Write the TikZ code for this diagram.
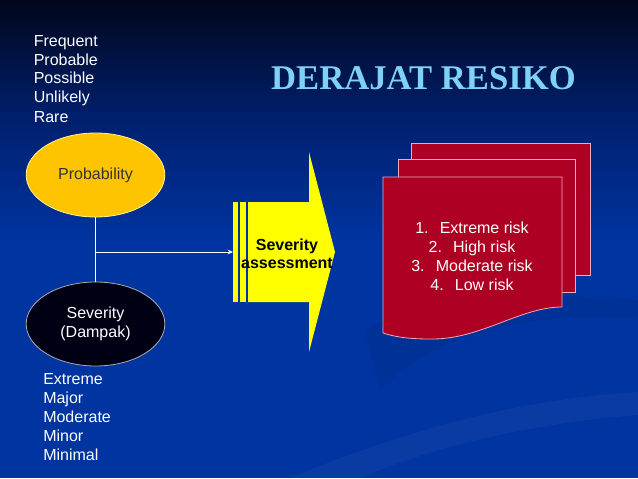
\documentclass[tikz,border=0pt]{standalone}
\usepackage{fontspec}
\setmainfont{Liberation Sans}
\newfontfamily\titlefont{Liberation Serif}
\usetikzlibrary{shapes.geometric,arrows.meta}
\definecolor{bgtop}{HTML}{01061C}
\definecolor{bgmid}{HTML}{00206E}
\definecolor{bgblue}{HTML}{0034A0}
\definecolor{probgold}{HTML}{FFC400}
\definecolor{arrowyellow}{HTML}{FFFF00}
\definecolor{docred}{HTML}{AD0023}
\definecolor{docedge}{HTML}{F2A9BE}
\definecolor{titleblue}{HTML}{7FD2F6}

\begin{document}
\begin{tikzpicture}[x=0.75pt,y=-0.75pt,
    listtext/.style={anchor=base west, text=white, font=\fontsize{12}{14}\selectfont, inner sep=0pt},
    bubble/.style={ellipse, minimum width=104pt, minimum height=63pt, inner sep=0pt,
      align=center, font=\fontsize{12}{14.25}\selectfont, line width=0.6pt},
    riskpage/.style={fill=docred, draw=docedge, line width=0.6pt}]

    \useasboundingbox (0,0) rectangle (638,478);
    % background
    \shade[top color=bgtop, bottom color=bgblue, middle color=bgmid] (0,0) rectangle (638,240);
    \fill[bgblue] (0,240) rectangle (638,478);
    \fill[white, opacity=0.035] (290,478) .. controls (430,420) and (540,398) .. (638,392)
        -- (638,415) .. controls (550,422) and (450,440) .. (360,478) -- cycle;
    \fill[black, opacity=0.05] (365,330) .. controls (420,300) and (520,290) .. (638,300)
        -- (638,318) .. controls (530,312) and (440,330) .. (380,390) -- cycle;

    % title
    \node[text=titleblue, font=\titlefont\bfseries\fontsize{26}{30}\selectfont] (title) at (423.5,78) {DERAJAT RESIKO};

    % likelihood and impact scales
    \foreach \w [count=\i] in {Frequent,Probable,Possible,Unlikely,Rare}
        \node[listtext] (p\i) at (33.5,{27+19*\i}) {\w};
    \foreach \w [count=\i] in {Extreme,Major,Moderate,Minor,Minimal}
        \node[listtext] (s\i) at (43,{365+19*\i}) {\w};

    % ellipses
    \node[bubble, fill=probgold, draw=yellow!45, text=black!80] (prob) at (95.5,175) {Probability};
    \node[bubble, fill=black!92!blue, draw=gray!65, text=white] (sev) at (95.5,324) {Severity\\(Dampak)};

    \coordinate (split) at (95.5,252);
    \coordinate (barin) at (233,252);
    \draw[white, line width=0.6pt] (prob) -- (sev);
    \draw[white, line width=0.6pt, -{Stealth[length=4pt,width=3.5pt]}] (split) -- (barin);

    % assessment arrow
    \fill[arrowyellow] (233,202) rectangle (237.5,302);
    \fill[arrowyellow] (239.5,202) rectangle (246,302);
    \fill[arrowyellow] (248,202) -- (309,202) -- (309,152) -- (335,252) -- (309,352)
        -- (309,302) -- (248,302) -- cycle;
    \node[align=center, font=\bfseries\fontsize{12}{13.5}\selectfont, inner sep=0pt] (assess) at (287,254) {Severity\\assessment};

    % risk pages
    \filldraw[riskpage] (411,143) rectangle (590,275);
    \filldraw[riskpage] (398,159) rectangle (575,292);
    \filldraw[riskpage] (383,177) -- (562,177) -- (562,307)
        .. controls (520,307) and (480,340) .. (430,339)
        .. controls (405,339) and (392,336) .. (383,333) -- cycle;
    \node[text=white, align=center, font=\fontsize{12}{14.25}\selectfont, inner sep=0pt] (risks) at (472,256)
        {1.\hspace{0.7em}Extreme risk\\2.\hspace{0.7em}High risk\\3.\hspace{0.7em}Moderate risk\\4.\hspace{0.7em}Low risk};
\end{tikzpicture}
\end{document}
